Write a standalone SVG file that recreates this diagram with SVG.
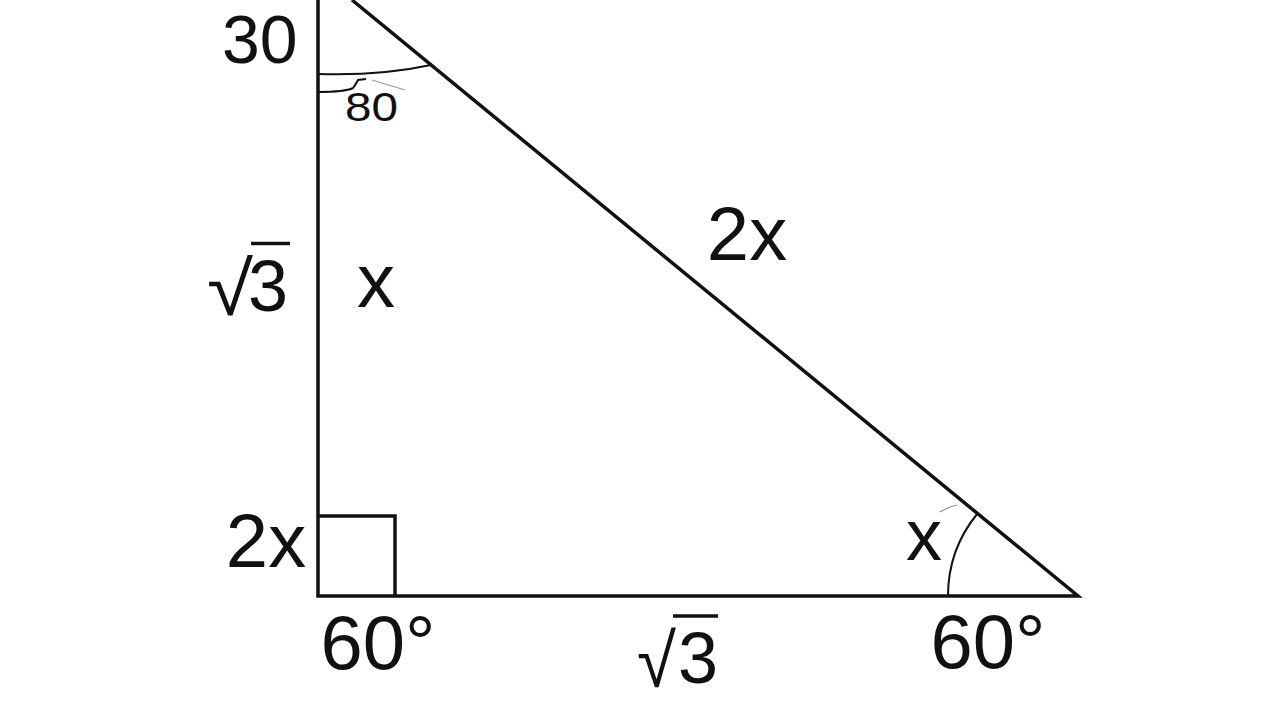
<svg xmlns="http://www.w3.org/2000/svg" width="1280" height="720" viewBox="0 0 1280 720">
<style>
.t{font-family:"Liberation Sans",Arial,sans-serif;fill:#111;}
.s{fill:none;stroke:#111;stroke-width:3.5;stroke-linejoin:miter;}
.a{fill:none;stroke:#111;stroke-width:2;}
</style>
<rect width="1280" height="720" fill="#fff"/>
<g id="triangle">
<path class="s" d="M318,0 L318,596 L1078,596 L352,0"/>
<path class="s" d="M318,516 L395,516 L395,596"/>
</g>
<g id="angles">
<path class="a" d="M318,74 Q380,76 431,65"/>
<path class="a" d="M318,92 Q345,92 353,88 Q356,84 358,80 L366,79"/>
<path d="M372,80 L405,90" stroke="#999" stroke-width="1.2" fill="none"/>
<path class="a" d="M948,596 A130,130 0 0 1 977.5,513.5"/>
<path d="M940,512 Q948,507 957,505" stroke="#888" stroke-width="1.2" fill="none"/>
</g>
<g id="labels">
<text class="t" x="222" y="63" font-size="68">30</text>
<text class="t" x="345" y="121" font-size="40" textLength="53" lengthAdjust="spacingAndGlyphs">80</text>
<text class="t" x="747" y="260" font-size="76" text-anchor="middle">2x</text>
<text class="t" x="376" y="307" font-size="76" text-anchor="middle">x</text>
<text class="t" x="266" y="567" font-size="76" text-anchor="middle">2x</text>
<text class="t" x="924" y="560" font-size="72" text-anchor="middle">x</text>
<text class="t" x="378" y="669" font-size="76" text-anchor="middle">60°</text>
<text class="t" x="988" y="668" font-size="76" text-anchor="middle">60°</text>
<text class="t" x="207" y="315" font-size="76" textLength="46" lengthAdjust="spacingAndGlyphs">√</text>
<text class="t" x="248" y="311" font-size="72">3</text>
<line x1="251" y1="243.5" x2="290" y2="243.5" stroke="#111" stroke-width="3.5"/>
<text class="t" x="637" y="687" font-size="75" textLength="39" lengthAdjust="spacingAndGlyphs">√</text>
<text class="t" x="678" y="683" font-size="72">3</text>
<line x1="673" y1="616" x2="718" y2="616" stroke="#111" stroke-width="3.5"/>
</g>
</svg>
